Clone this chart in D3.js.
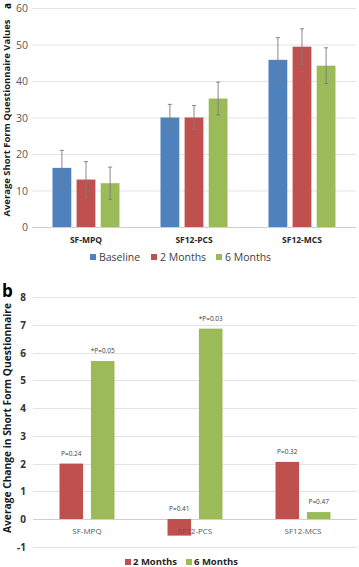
<!DOCTYPE html>
<html>
<head>
<meta charset="utf-8">
<script src="https://cdn.jsdelivr.net/npm/d3@7"></script>
<style>
body{margin:0;background:#fff;}
svg{display:block;font-family:"Open Sans",sans-serif;}
</style>
</head>
<body>
<svg id="svg" width="359" height="567"></svg>
<script>
// panel a data
var categories=["SF-MPQ","SF12-PCS","SF12-MCS"];
var seriesA=["Baseline","2 Months","6 Months"];
var baseline=[16.2,30.0,45.8];
var months2=[13.0,30.0,49.4];
var months6=[12.0,35.2,44.2];
var errBaseline=[4.8,3.6,6.1];
var err2=[4.9,3.3,4.9];
var err6=[4.4,4.5,4.9];
var ticksA=[0,10,20,30,40,50,60];

// panel b data
var seriesB=["2 Months","6 Months"];
var change2=[2.0,-0.6,2.06];
var change6=[5.7,6.87,0.25];
var pLabels2=["P=0.24","P=0.41","P=0.32"];
var pLabels6=["*P=0.05","*P=0.03","P=0.47"];
var ticksB=[-1,0,1,2,3,4,5,6,7,8];

var colors={"Baseline":"#4F81BD","2 Months":"#C0504D","6 Months":"#9BBB59"};

var svg=d3.select("#svg");

// ---------- panel a ----------
var plotA={left:32,right:356,top:8,bottom:227};
var yA=d3.scaleLinear().domain([0,60]).range([plotA.bottom,plotA.top]);
var xA=d3.scaleBand().domain(categories).range([plotA.left,plotA.right]);
var xA1=d3.scaleBand().domain(seriesA).range([-33.5,33.5]).paddingInner(0.22);

var gA=svg.append("g");
gA.selectAll("line.grid").data(ticksA).enter().append("line")
    .attr("x1",plotA.left).attr("x2",plotA.right)
    .attr("y1",function(d){return yA(d)+0.5}).attr("y2",function(d){return yA(d)+0.5})
    .attr("stroke",function(d){return d==0?"#cfcfcf":"#e3e3e3"}).attr("stroke-width",1);
gA.selectAll("text.tick").data(ticksA).enter().append("text")
    .attr("x",28).attr("y",function(d){return yA(d)+4})
    .attr("text-anchor","end").attr("font-size",10.5).attr("fill","#595959")
    .text(function(d){return d});

var tableA=[];
categories.forEach(function(c,i){
    tableA.push({cat:c,s:"Baseline",v:baseline[i],e:errBaseline[i]});
    tableA.push({cat:c,s:"2 Months",v:months2[i],e:err2[i]});
    tableA.push({cat:c,s:"6 Months",v:months6[i],e:err6[i]});
});
function barXA(d){return xA(d.cat)+xA.bandwidth()/2+xA1(d.s);}
gA.selectAll("rect").data(tableA).enter().append("rect")
    .attr("x",barXA).attr("width",xA1.bandwidth())
    .attr("y",function(d){return yA(d.v)}).attr("height",function(d){return yA(0)-yA(d.v)})
    .attr("fill",function(d){return colors[d.s]});
var eb=gA.selectAll("g.err").data(tableA).enter().append("g").attr("stroke","#7a7a7a").attr("stroke-width",0.9);
eb.append("line")
    .attr("x1",function(d){return barXA(d)+xA1.bandwidth()/2}).attr("x2",function(d){return barXA(d)+xA1.bandwidth()/2})
    .attr("y1",function(d){return yA(d.v+d.e)}).attr("y2",function(d){return yA(d.v-d.e)});
eb.append("line")
    .attr("x1",function(d){return barXA(d)+xA1.bandwidth()/2-2}).attr("x2",function(d){return barXA(d)+xA1.bandwidth()/2+2})
    .attr("y1",function(d){return yA(d.v+d.e)}).attr("y2",function(d){return yA(d.v+d.e)});
eb.append("line")
    .attr("x1",function(d){return barXA(d)+xA1.bandwidth()/2-2}).attr("x2",function(d){return barXA(d)+xA1.bandwidth()/2+2})
    .attr("y1",function(d){return yA(d.v-d.e)}).attr("y2",function(d){return yA(d.v-d.e)});

gA.selectAll("text.cat").data(categories).enter().append("text")
    .attr("x",function(d){return xA(d)+xA.bandwidth()/2}).attr("y",243)
    .attr("text-anchor","middle").attr("font-size",8.5).attr("font-weight","bold").attr("fill","#262626")
    .text(function(d){return d});

gA.append("text").attr("transform","translate(10,118) rotate(-90)")
    .attr("text-anchor","middle").attr("font-size",9.5).attr("font-weight","bold").attr("fill","#1a1a1a")
    .attr("textLength",197).attr("lengthAdjust","spacingAndGlyphs")
    .text("Average Short Form Questionnaire Values");
gA.append("text").attr("transform","translate(11,3) rotate(-90)")
    .attr("text-anchor","end").attr("font-size",10).attr("font-weight","bold").attr("fill","#000")
    .text("a");

var legA=[{s:"Baseline",x:90},{s:"2 Months",x:151},{s:"6 Months",x:216}];
var lgA=gA.selectAll("g.leg").data(legA).enter().append("g");
lgA.append("rect").attr("x",function(d){return d.x}).attr("y",254).attr("width",6).attr("height",6)
    .attr("fill",function(d){return colors[d.s]});
lgA.append("text").attr("x",function(d){return d.x+9}).attr("y",261)
    .attr("font-size",10.5).attr("fill","#404040").text(function(d){return d.s});

// ---------- panel b ----------
var plotB={left:33,right:357};
var yB=d3.scaleLinear().domain([-1,8]).range([546.7,297.3]);
var xB=d3.scaleBand().domain(categories).range([plotB.left,plotB.right]);
var xB1=d3.scaleBand().domain(seriesB).range([-27.5,27.5]).paddingInner(0.25);

var gB=svg.append("g");
gB.selectAll("line.grid").data(ticksB).enter().append("line")
    .attr("x1",plotB.left).attr("x2",plotB.right)
    .attr("y1",function(d){return Math.round(yB(d))+0.5}).attr("y2",function(d){return Math.round(yB(d))+0.5})
    .attr("stroke",function(d){return d==0?"#cfcfcf":"#e3e3e3"}).attr("stroke-width",1);
gB.selectAll("text.tick").data(ticksB).enter().append("text")
    .attr("x",26).attr("y",function(d){return yB(d)+4})
    .attr("text-anchor","end").attr("font-size",10).attr("font-weight","bold").attr("fill","#333")
    .text(function(d){return d});

var tableB=[];
categories.forEach(function(c,i){
    tableB.push({cat:c,s:"2 Months",v:change2[i],p:pLabels2[i]});
    tableB.push({cat:c,s:"6 Months",v:change6[i],p:pLabels6[i]});
});
function barXB(d){return xB(d.cat)+xB.bandwidth()/2+xB1(d.s);}
gB.selectAll("rect").data(tableB).enter().append("rect")
    .attr("x",barXB).attr("width",xB1.bandwidth())
    .attr("y",function(d){return yB(Math.max(0,d.v))})
    .attr("height",function(d){return Math.abs(yB(0)-yB(d.v))})
    .attr("fill",function(d){return colors[d.s]});

gB.selectAll("text.cat").data(categories).enter().append("text")
    .attr("x",function(d){return xB(d)+xB.bandwidth()/2}).attr("y",534)
    .attr("text-anchor","middle").attr("font-size",8).attr("fill","#595959")
    .text(function(d){return d});

gB.selectAll("text.p").data(tableB).enter().append("text")
    .attr("x",function(d){return barXB(d)+xB1.bandwidth()/2})
    .attr("y",function(d){return yB(Math.max(0,d.v))-8})
    .attr("text-anchor","middle").attr("font-size",6.5).attr("fill","#404040")
    .text(function(d){return d.p});

gB.append("text").attr("transform","translate(11,418) rotate(-90)")
    .attr("text-anchor","middle").attr("font-size",10.5).attr("font-weight","bold").attr("fill","#1a1a1a")
    .attr("textLength",230).attr("lengthAdjust","spacingAndGlyphs")
    .text("Average Change in Short Form Questionnaire");
gB.append("text").attr("x",2).attr("y",297)
    .attr("font-size",17).attr("font-weight","bold").attr("fill","#000")
    .text("b");

var legB=[{s:"2 Months",x:125},{s:"6 Months",x:186}];
var lgB=gB.selectAll("g.leg").data(legB).enter().append("g");
lgB.append("rect").attr("x",function(d){return d.x}).attr("y",559).attr("width",6).attr("height",6)
    .attr("fill",function(d){return colors[d.s]});
lgB.append("text").attr("x",function(d){return d.x+8}).attr("y",565)
    .attr("font-size",9.5).attr("font-weight","bold").attr("fill","#262626").text(function(d){return d.s});
</script>
</body>
</html>
